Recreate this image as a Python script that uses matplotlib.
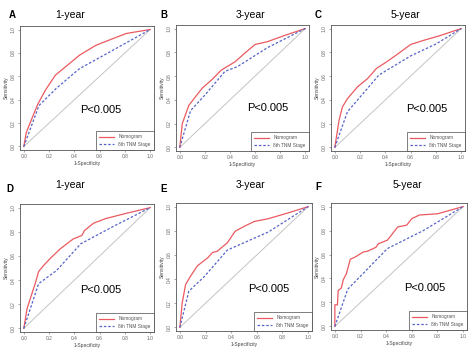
import matplotlib
matplotlib.use("Agg")
import matplotlib.pyplot as plt

plt.rcParams['font.family'] = ['Liberation Sans', 'DejaVu Sans']

panel_letters = ['A', 'B', 'C', 'D', 'E', 'F']
panel_titles = ['1-year', '3-year', '5-year', '1-year', '3-year', '5-year']
p_text = 'P<0.005'
legend_labels = ['Nomogram', '8th TNM Stage']

# ROC curves (1-specificity, sensitivity)
nomo_x = [
    [0, 0.02, 0.057, 0.11, 0.17, 0.25, 0.34, 0.44, 0.57, 0.70, 0.81, 1.0],
    [0, 0.02, 0.047, 0.073, 0.125, 0.18, 0.256, 0.33, 0.44, 0.52, 0.60, 0.70, 0.83, 1.0],
    [0, 0.034, 0.06, 0.10, 0.18, 0.26, 0.33, 0.41, 0.49, 0.60, 0.70, 0.83, 1.0],
    [0, 0.026, 0.065, 0.09, 0.117, 0.156, 0.21, 0.29, 0.39, 0.46, 0.48, 0.55, 0.65, 0.80, 1.0],
    [0, 0.018, 0.045, 0.084, 0.137, 0.216, 0.255, 0.29, 0.37, 0.43, 0.50, 0.58, 0.69, 0.85, 1.0],
    [0, 0, 0.02, 0.026, 0.05, 0.066, 0.09, 0.12, 0.16, 0.22, 0.26, 0.32, 0.34, 0.41, 0.45,
     0.49, 0.56, 0.60, 0.66, 0.80, 0.90, 1.0],
]
nomo_y = [
    [0, 0.12, 0.22, 0.36, 0.48, 0.61, 0.69, 0.78, 0.865, 0.92, 0.966, 1.0],
    [0, 0.20, 0.28, 0.355, 0.426, 0.50, 0.57, 0.65, 0.72, 0.795, 0.866, 0.89, 0.94, 1.0],
    [0, 0.23, 0.34, 0.41, 0.51, 0.58, 0.665, 0.72, 0.78, 0.866, 0.90, 0.94, 1.0],
    [0, 0.165, 0.29, 0.37, 0.47, 0.52, 0.58, 0.66, 0.74, 0.77, 0.81, 0.87, 0.91, 0.95, 1.0],
    [0, 0.20, 0.356, 0.425, 0.51, 0.575, 0.62, 0.63, 0.70, 0.795, 0.836, 0.877, 0.90, 0.95, 1.0],
    [0, 0.18, 0.18, 0.30, 0.32, 0.39, 0.44, 0.56, 0.58, 0.62, 0.63, 0.66, 0.69, 0.72, 0.775,
     0.83, 0.845, 0.90, 0.93, 0.94, 0.97, 1.0],
]
tnm_x = [
    [0, 0.12, 0.26, 0.44, 0.70, 1.0],
    [0, 0.086, 0.20, 0.36, 0.46, 0.70, 1.0],
    [0, 0.10, 0.35, 0.60, 0.80, 1.0],
    [0, 0.117, 0.26, 0.45, 0.70, 1.0],
    [0, 0.07, 0.19, 0.37, 0.69, 1.0],
    [0, 0.10, 0.41, 0.69, 1.0],
]
tnm_y = [
    [0, 0.35, 0.50, 0.665, 0.82, 1.0],
    [0, 0.31, 0.44, 0.64, 0.68, 0.84, 1.0],
    [0, 0.30, 0.61, 0.77, 0.87, 1.0],
    [0, 0.37, 0.48, 0.70, 0.84, 1.0],
    [0, 0.30, 0.42, 0.64, 0.79, 1.0],
    [0, 0.31, 0.65, 0.80, 1.0],
]
# where "P<0.005" sits in each panel (data coords)
p_pos = [(0.61, 0.31), (0.70, 0.33), (0.73, 0.32), (0.61, 0.32), (0.69, 0.315), (0.70, 0.32)]

W, H = 474, 353
fig = plt.figure(figsize=(W / 100, H / 100), dpi=100)

# axes boxes in pixels: left, top, right, bottom
boxes = [(20, 26, 154, 150), (176, 25, 309, 151), (331, 25, 465, 151),
         (20, 204, 154, 332), (176, 203, 312, 331), (331, 203, 467, 330)]
letter_pos = [(12, 15), (164, 15), (318, 15), (10, 189), (164, 189), (318, 187)]
title_pos = [(70, 15), (250, 15), (405, 15), (70, 185), (250, 185), (407, 185)]

red = '#ea5a60'
blue = '#5563c8'
ticks = [0, 0.2, 0.4, 0.6, 0.8, 1.0]

for i in range(6):
    l, t, r, b = boxes[i]
    ax = fig.add_axes([l / W, 1 - b / H, (r - l) / W, (b - t) / H])
    ax.plot([0, 1], [0, 1], color='#c4c4c4', lw=0.7)
    ax.plot(nomo_x[i], nomo_y[i], color=red, lw=0.9, label=legend_labels[0])
    ax.plot(tnm_x[i], tnm_y[i], color=blue, lw=0.9, ls=(0, (2, 1.5)), label=legend_labels[1])
    ax.set_xlim(-0.03, 1.03)
    ax.set_ylim(-0.03, 1.03)
    ax.set_xticks(ticks)
    ax.set_yticks(ticks)
    ax.set_xticklabels(['%.1f' % v for v in ticks], fontsize=3.5, color='#555555')
    ax.set_yticklabels(['%.1f' % v for v in ticks], fontsize=3.5, color='#555555',
                       rotation=90, va='center')
    ax.tick_params(length=1.5, width=0.4, pad=1.5, colors='#666666')
    ax.set_xlabel('1-Specificity', fontsize=3.6, labelpad=1.5, color='#444444')
    ax.set_ylabel('Sensitivity', fontsize=3.6, labelpad=1.5, color='#444444')
    for s in ax.spines.values():
        s.set_linewidth(0.6)
        s.set_color('#555555')
    ax.text(p_pos[i][0], p_pos[i][1], p_text, fontsize=8, ha='center', va='center')
    leg = ax.legend(loc='lower right', fontsize=3.4, frameon=True, fancybox=False,
                    borderaxespad=0, handlelength=3.0, borderpad=0.7, labelspacing=0.5,
                    handletextpad=1.0, labelcolor='#555555')
    leg.get_frame().set_edgecolor('#444444')
    leg.get_frame().set_linewidth(0.6)
    fig.text(letter_pos[i][0] / W, 1 - letter_pos[i][1] / H, panel_letters[i],
             fontsize=7, fontweight='bold', ha='center', va='center')
    fig.text(title_pos[i][0] / W, 1 - title_pos[i][1] / H, panel_titles[i],
             fontsize=7.5, ha='center', va='center')

fig.savefig('out.png', dpi=100)
